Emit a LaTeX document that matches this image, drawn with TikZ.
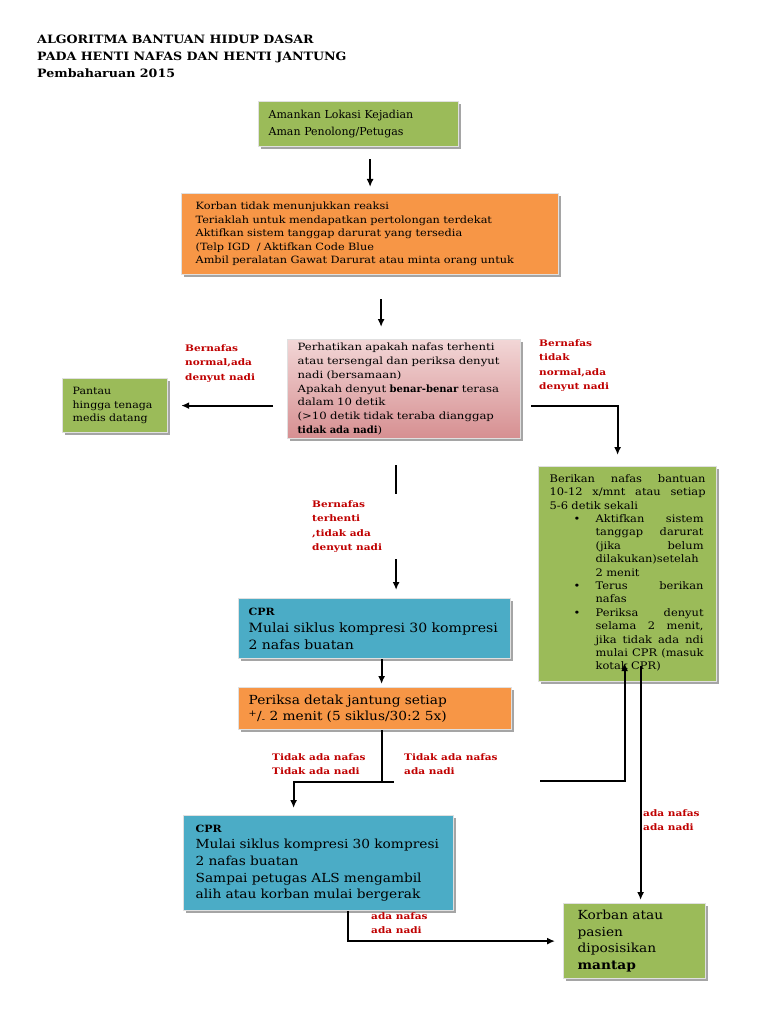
\documentclass[tikz,border=0pt]{standalone}
\usepackage{fontspec}
\setmainfont{DejaVu Serif}
\newfontfamily\hurufA{DejaVu Serif}[FakeStretch=1.1]
\newfontfamily\hurufB{DejaVu Serif}[FakeStretch=1.17]
\newfontfamily\hurufD{DejaVu Serif}[FakeStretch=1.13]
\usetikzlibrary{arrows.meta,shadows}

\definecolor{hijau}{HTML}{9BBB59}
\definecolor{oranye}{HTML}{F79646}
\definecolor{biru}{HTML}{4BACC6}
\definecolor{merahmuda}{HTML}{D68F91}
\definecolor{merahmudaterang}{HTML}{F2D6D6}
\definecolor{ketmerah}{HTML}{C00000}

\newcommand{\butir}[1]{\strut\hspace*{24pt}\makebox[22pt][l]{\textbullet}\parbox[t]{108pt}{#1\strut}}
\newcommand{\tebal}[1]{{\rmfamily\bfseries #1}}

\begin{document}
\begin{tikzpicture}[x=1pt,y=-1pt,>={Latex[length=8pt,width=7pt]},
    kotak/.style={draw=black!12,line width=1.2pt,anchor=north west,align=left,
                  drop shadow={shadow xshift=2pt,shadow yshift=-2pt,fill=black!70}},
    kecil/.style={font=\hurufD\fontsize{10}{13.5}\selectfont},
    besar/.style={font=\hurufA\fontsize{12.5}{16.7}\selectfont},
    ket/.style={anchor=north west,inner sep=0pt,align=left,text=ketmerah,
                font=\hurufB\fontsize{9}{14.5}\selectfont\bfseries},
    garis/.style={line width=2.2pt},
    panah/.style={garis,->}]
\fill[white] (0,0) rectangle (768,1024);
\useasboundingbox (0,0) rectangle (768,1024);

% judul
\node[anchor=north west,inner sep=0pt,align=left,
      font=\hurufA\fontsize{11.5}{17}\selectfont\bfseries] (judul) at (37,35)
     {ALGORITMA BANTUAN HIDUP DASAR\\PADA HENTI NAFAS DAN HENTI JANTUNG\\Pembaharuan 2015};

% kotak-kotak
\node[kotak,fill=hijau,text width=180pt,inner xsep=10pt,minimum height=45pt,
      font=\rmfamily\fontsize{11}{16.5}\selectfont] (aman) at (258,101)
     {Amankan Lokasi Kejadian\\Aman Penolong/Petugas};
\node[kotak,kecil,fill=oranye,text width=349pt,inner xsep=14pt,minimum height=81pt] (reaksi) at (181,193)
     {Korban tidak menunjukkan reaksi\\Teriaklah untuk mendapatkan pertolongan terdekat\\
      Aktifkan sistem tanggap darurat yang tersedia\\(Telp IGD~~/ Aktifkan Code Blue\\
      Ambil peralatan Gawat Darurat atau minta orang untuk};
\node[kotak,top color=merahmudaterang,bottom color=merahmuda,text width=213pt,inner xsep=10pt,
      inner ysep=1pt,minimum height=99pt,font=\hurufB\fontsize{10}{13.8}\selectfont] (periksanafas) at (287,339)
     {Perhatikan apakah nafas terhenti\\atau tersengal dan periksa denyut\\nadi (bersamaan)\\
      \mbox{Apakah denyut \tebal{benar-benar} terasa}\\dalam 10 detik\\(>10 detik tidak teraba dianggap\\
      \tebal{tidak ada nadi})};
\node[kotak,fill=hijau,text width=85pt,inner xsep=10pt,minimum height=54pt,
      font=\hurufA\fontsize{10}{13.5}\selectfont] (pantau) at (62,378)
     {Pantau\\hingga tenaga\\medis datang};
\node[kotak,fill=hijau,text width=156pt,inner xsep=11pt,minimum height=215pt,
      font=\hurufA\fontsize{10.4}{13.4}\selectfont,
      execute at begin node={\setlength{\lineskip}{0pt}}] (bantuan) at (538,466)
     {Berikan\hfill nafas\hfill bantuan\\
      10-12\hfill x/mnt\hfill atau\hfill setiap\\
      5-6 detik sekali\\
      \butir{Aktifkan\hfill sistem\\tanggap\hfill darurat\\(jika\hfill belum\\dilakukan)setelah\\2 menit}\\
      \butir{Terus\hfill berikan\\nafas}\\
      \butir{Periksa\hfill denyut\\selama\hfill 2\hfill menit,\\jika\hfill tidak\hfill ada\hfill ndi\\
             mulai\hfill CPR\hfill (masuk\\kotak CPR)}};
\node[kotak,besar,fill=biru,text width=252pt,inner xsep=10pt,minimum height=60pt,
      font=\hurufA\fontsize{12.8}{17}\selectfont] (cprsatu) at (238,598)
     {{\fontsize{10}{12}\selectfont\bfseries CPR}\\\mbox{Mulai siklus kompresi 30 kompresi}\\2 nafas buatan};
\node[kotak,besar,fill=oranye,text width=253pt,inner xsep=10pt,minimum height=42pt] (detak) at (238,687)
     {Periksa detak jantung setiap\\\textsuperscript{+}/\textsubscript{-} 2 menit (5 siklus/30:2 5x)};
\node[kotak,besar,fill=biru,text width=246pt,inner xsep=12pt,minimum height=95pt] (cprdua) at (183,815)
     {{\fontsize{10}{12}\selectfont\bfseries CPR}\\Mulai siklus kompresi 30 kompresi\\2 nafas buatan\\
      Sampai petugas ALS mengambil\\alih atau korban mulai bergerak};
\node[kotak,besar,fill=hijau,text width=114pt,inner xsep=14pt,minimum height=75pt] (mantap) at (563,903)
     {Korban atau\\pasien\\diposisikan\\\textbf{mantap}};

% keterangan
\node[ket] (ketnormal) at (185,344) {Bernafas\\normal,ada\\denyut nadi};
\node[ket] (kettidaknormal) at (539,339) {Bernafas\\tidak\\normal,ada\\denyut nadi};
\node[ket] (ketterhenti) at (312,500) {Bernafas\\terhenti\\,tidak ada\\denyut nadi};
\node[ket] (kettanpanadi) at (272,753) {Tidak ada nafas\\Tidak ada nadi};
\node[ket] (ketadanadi) at (404,753) {Tidak ada nafas\\ada nadi};
\node[ket] (ketpulihkiri) at (371,912) {ada nafas\\ada nadi};
\node[ket] (ketpulihkanan) at (643,809) {ada nafas\\ada nadi};

% panah
\draw[panah,shorten <=12pt,shorten >=6pt] (aman.south -| reaksi.north) -- (reaksi.north);
\draw[panah,shorten <=24pt,shorten >=12pt] ([xshift=11pt]reaksi.south) -- ([xshift=11pt]reaksi.south |- periksanafas.north);
\draw[panah,shorten <=14pt,shorten >=13pt] (periksanafas.west |- pantau.east) -- (pantau.east);
\draw[panah,shorten <=10pt,shorten >=11pt] (periksanafas.east |- pantau.east) -| ([xshift=-10pt]bantuan.north);
\draw[garis] ([xshift=-8pt,yshift=-26pt]periksanafas.south) -- ([xshift=-8pt,yshift=-55pt]periksanafas.south);
\draw[panah,shorten >=8pt] ([xshift=-8pt,yshift=-120pt]periksanafas.south) -- ([xshift=-8pt]periksanafas.south |- cprsatu.north);
\draw[panah,shorten >=3pt] ([xshift=7pt]cprsatu.south) -- ([xshift=7pt]cprsatu.south |- detak.north);
\coordinate (cabang) at ([xshift=6.5pt,yshift=-52pt]detak.south);
\draw[garis] ([xshift=6.5pt]detak.south) -- (cabang);
\draw[panah,shorten >=7pt] ([xshift=12pt]cabang) -| ([xshift=-25pt]cprdua.north);
\coordinate (cabangkanan) at (540,781);
\draw[panah] (cabangkanan) -| ([xshift=-3pt,yshift=19pt]bantuan.south);
\draw[panah,shorten >=3pt] ([xshift=13pt,yshift=16pt]bantuan.south) -- ([xshift=13pt]bantuan.south |- mantap.north);
\draw[panah,shorten >=8pt] ([xshift=29pt]cprdua.south) |- (mantap.west);
\end{tikzpicture}
\end{document}
